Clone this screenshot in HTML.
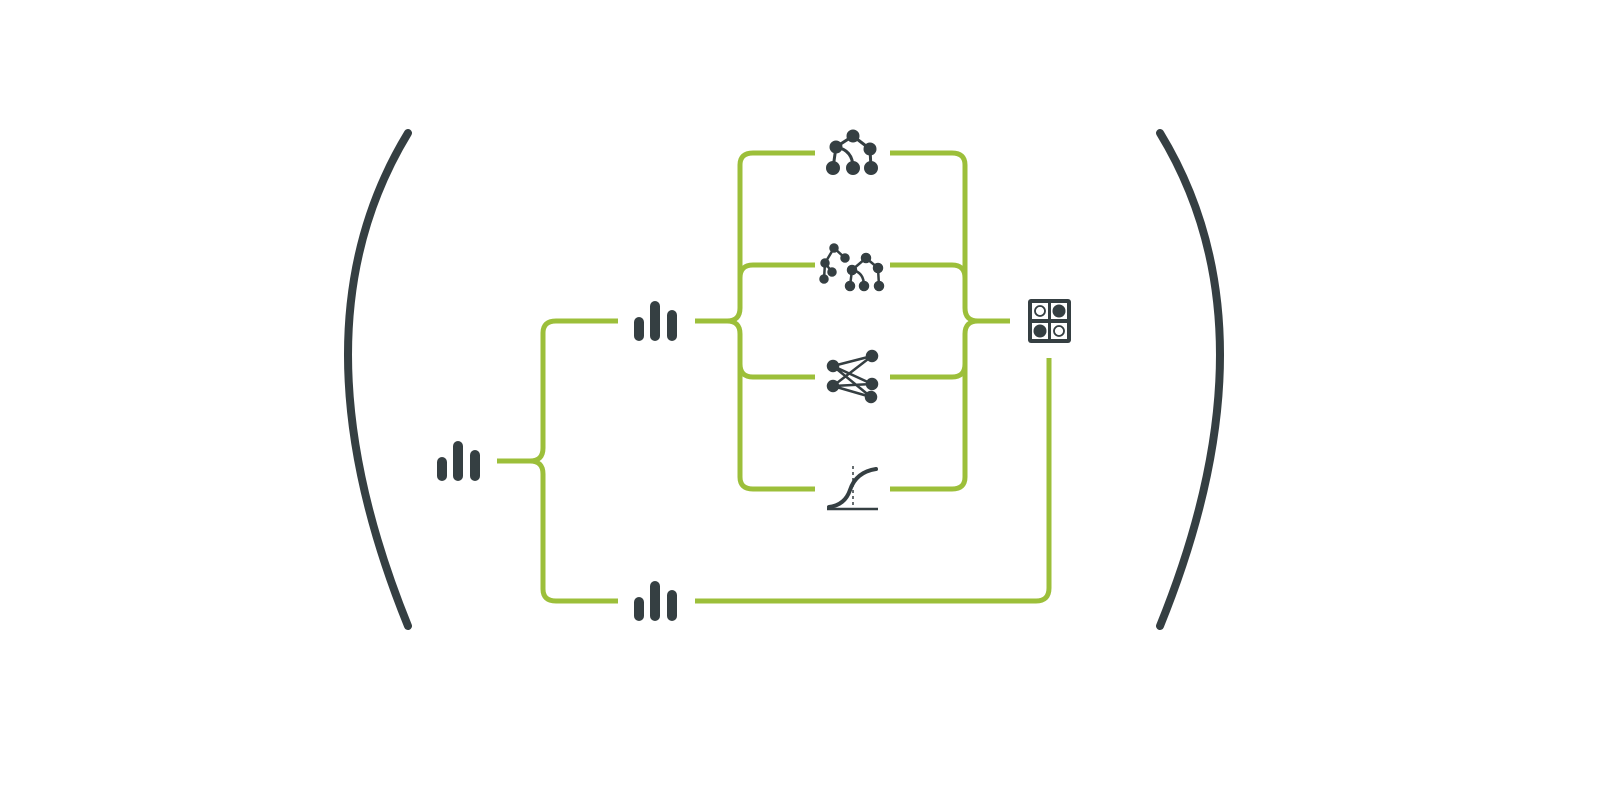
<!DOCTYPE html>
<html><head><style>html,body{margin:0;padding:0;background:#fff;}svg{display:block}</style></head>
<body>
<svg width="1600" height="800" viewBox="0 0 1600 800" xmlns="http://www.w3.org/2000/svg">
<defs>
<g id="bars" fill="#353f42">
<rect x="-21" y="-4" width="10" height="24" rx="5"/>
<rect x="-5" y="-20" width="10" height="40" rx="5"/>
<rect x="12" y="-11" width="10" height="31" rx="5"/>
</g>
</defs>
<!-- parentheses -->
<g fill="none" stroke="#353f42" stroke-width="8" stroke-linecap="round">
<path d="M408 133 Q288 330 408 626"/>
<path d="M1160 133 Q1280 330 1160 626"/>
</g>
<!-- green connectors -->
<g fill="none" stroke="#9cbf3a" stroke-width="5" stroke-linecap="butt">
<path d="M497 461 H530 Q543 461 543 448 V333 Q543 321 556 321 H618"/>
<path d="M530 461 Q543 461 543 474 V589 Q543 601 556 601 H618"/>
<path d="M695 321 H727 Q740 321 740 308 V165 Q740 153 753 153 H815"/>
<path d="M727 321 Q740 321 740 334 V477 Q740 489 753 489 H815"/>
<path d="M740 290 V278 Q740 265 753 265 H815"/>
<path d="M740 352 V364 Q740 377 753 377 H815"/>
<path d="M1010 321 H978 Q965 321 965 308 V165 Q965 153 952 153 H890"/>
<path d="M978 321 Q965 321 965 334 V477 Q965 489 952 489 H890"/>
<path d="M965 290 V278 Q965 265 952 265 H890"/>
<path d="M965 352 V364 Q965 377 952 377 H890"/>
<path d="M695 601 H1036 Q1049 601 1049 588 V358"/>
</g>
<use href="#bars" x="458" y="461"/>
<use href="#bars" x="655" y="321"/>
<use href="#bars" x="655" y="601"/>
<!-- tree icon -->
<g stroke="#353f42" stroke-width="3" fill="#353f42">
<path d="M836 147 L853 136 L870 149 M836 147 L833 168 M836 147 Q853 150 853 168 M870 149 L871 168" fill="none"/>
<circle cx="853" cy="136" r="5"/><circle cx="836" cy="147" r="5"/><circle cx="870" cy="149" r="5"/>
<circle cx="833" cy="168" r="5.5"/><circle cx="853" cy="168" r="5.5"/><circle cx="871" cy="168" r="5.5"/>
</g>
<!-- forest icon -->
<g stroke="#353f42" stroke-width="2.5" fill="#353f42">
<path d="M825 263 L834 248 L845 258 M825 263 L824 279 M825 263 L832 272" fill="none"/>
<circle cx="834" cy="248" r="3.5"/><circle cx="845" cy="258" r="3.5"/><circle cx="825" cy="263" r="3.5"/>
<circle cx="832" cy="272" r="3.5"/><circle cx="824" cy="279" r="3.5"/>
<path d="M852 270 L866 258 L878 268 M852 270 L850 286 M852 270 Q864 272 864 286 M878 268 L879 286" fill="none"/>
<circle cx="866" cy="258" r="4"/><circle cx="852" cy="270" r="4"/><circle cx="878" cy="268" r="4"/>
<circle cx="850" cy="286" r="4"/><circle cx="864" cy="286" r="4"/><circle cx="879" cy="286" r="4"/>
</g>
<!-- neural net icon -->
<g stroke="#353f42" stroke-width="2.5" fill="#353f42">
<path d="M833 366 L872 356 M833 366 L872 384 M833 366 L871 397 M833 386 L872 356 M833 386 L872 384 M833 386 L871 397" fill="none"/>
<circle cx="833" cy="366" r="5"/><circle cx="833" cy="386" r="5"/>
<circle cx="872" cy="356" r="5"/><circle cx="872" cy="384" r="5"/><circle cx="871" cy="397" r="5"/>
</g>
<!-- sigmoid icon -->
<g fill="none" stroke="#353f42">
<path d="M829 507 Q845 505 850 490 Q856 472 876 469" stroke-width="4" stroke-linecap="round"/>
<path d="M827 509 H878" stroke-width="2.5"/>
<path d="M853 466 V508" stroke-width="1.5" stroke-dasharray="3 3"/>
</g>
<!-- output icon -->
<g>
<rect x="1028" y="299" width="43" height="44" rx="3" fill="#353f42"/>
<rect x="1032" y="303" width="16" height="16" fill="#fff"/>
<rect x="1051" y="303" width="16" height="16" fill="#fff"/>
<rect x="1032" y="323" width="16" height="16" fill="#fff"/>
<rect x="1051" y="323" width="16" height="16" fill="#fff"/>
<circle cx="1040" cy="311" r="5" fill="none" stroke="#353f42" stroke-width="1.8"/>
<circle cx="1059" cy="311" r="6.5" fill="#353f42"/>
<circle cx="1040" cy="331" r="6.5" fill="#353f42"/>
<circle cx="1059" cy="331" r="5" fill="none" stroke="#353f42" stroke-width="1.8"/>
</g>
</svg>
</body></html>
